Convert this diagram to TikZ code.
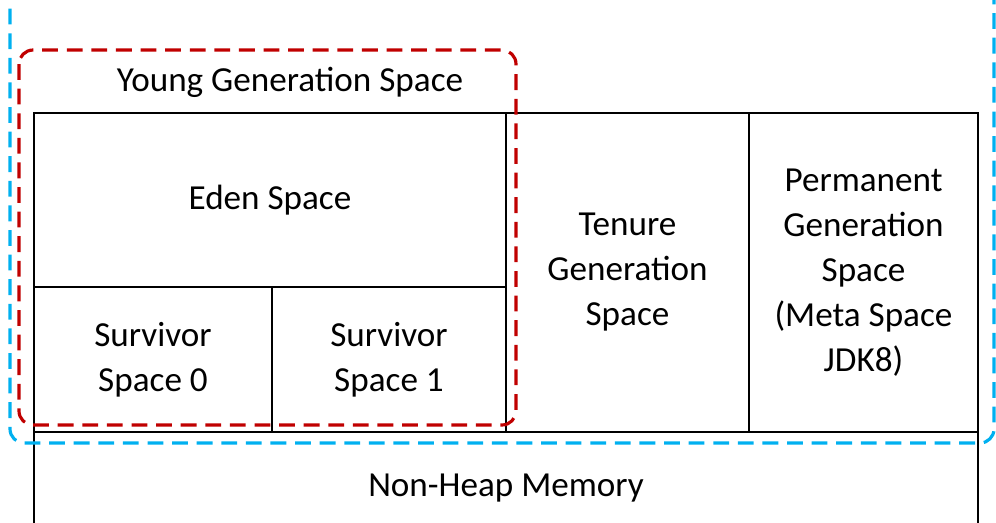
\documentclass[tikz,border=0pt]{standalone}
\usepackage{fontspec}
\setmainfont{Carlito}
\usetikzlibrary{positioning}
\definecolor{heapblue}{RGB}{0,176,240}
\definecolor{youngred}{RGB}{192,0,0}
\tikzset{
  area/.style={draw=black, line width=0.8pt, align=center, inner sep=0pt, font=\fontsize{20}{25.6}\selectfont},
  youngline/.style={draw=youngred, line width=1.8pt, dash pattern=on 9pt off 5pt, rounded corners=8pt},
  heapline/.style={draw=heapblue, line width=1.8pt, dash pattern=on 9pt off 5pt, rounded corners=8pt}
}
\begin{document}
\begin{tikzpicture}[x=0.02cm,y=-0.02cm]
  \useasboundingbox (0,0) rectangle (996,522);
  \clip (0,0) rectangle (996,522);
  % Heap areas
  \node[area, minimum width=472*0.02cm, minimum height=174*0.02cm] (eden) at (270,200) {Eden Space};
  \node[area, minimum width=238*0.02cm, minimum height=145*0.02cm] (surv0) at (153,359.5) {Survivor\\Space 0};
  \node[area, minimum width=234*0.02cm, minimum height=145*0.02cm] (surv1) at (389,359.5) {Survivor\\Space 1};
  \node[area, minimum width=243*0.02cm, minimum height=319*0.02cm] (tenure) at (627.5,272.5) {Tenure\\Generation\\Space};
  \node[area, minimum width=229*0.02cm, minimum height=319*0.02cm] (perm) at (863.5,272.5) {Permanent\\Generation\\Space\\(Meta Space\\JDK8)};
  \node[area, minimum width=944*0.02cm, minimum height=120*0.02cm, text depth=0pt] (nonheap) at (506,492) {};
  \node[font=\fontsize{20}{25.6}\selectfont] (nhlabel) at (506,488) {Non-Heap Memory};
  % Generation outlines
  \draw[heapline] (10,-30) rectangle (994,443);
  \draw[youngline] (19,50) rectangle (516,425);
  \node[font=\fontsize{20}{25.6}\selectfont] (younglabel) at (290,82) {Young Generation Space};
\end{tikzpicture}
\end{document}
